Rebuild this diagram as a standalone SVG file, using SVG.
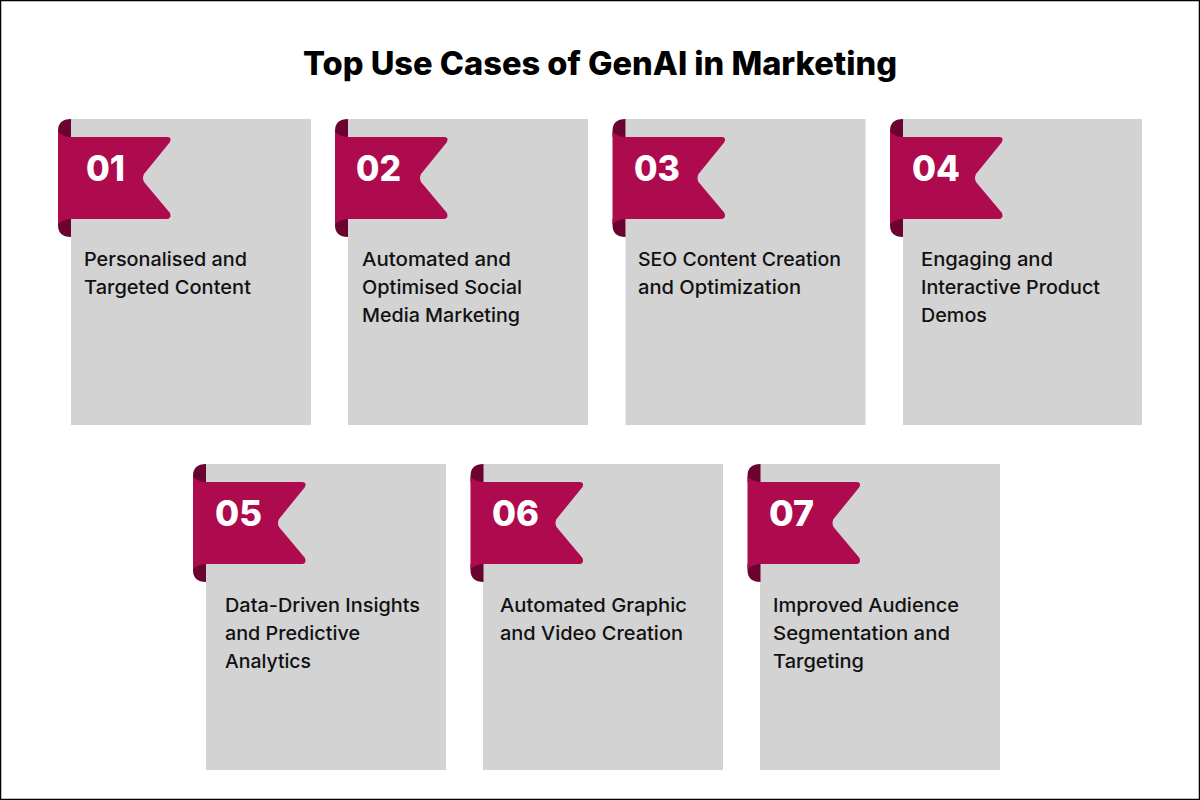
<svg xmlns="http://www.w3.org/2000/svg" width="1200" height="800" viewBox="0 0 1200 800">
<style>
.card{fill:#d3d3d3}
.ribbon{fill:#ae0a4e}
.fold{fill:#6b0330}
.num{font-family:Inter,"Liberation Sans",sans-serif;font-weight:800;font-size:35px;fill:#fff}
.label{font-family:Inter,"Liberation Sans",sans-serif;font-weight:500;font-size:19px;fill:#111}
.title{font-family:Inter,"Liberation Sans",sans-serif;font-weight:800;font-size:32px;fill:#000}
</style>
<defs>
<g id="tag">
<path class="fold" d="M0 137V131Q0 119 13 119V137ZM0 219H13V237Q0 237 0 225Z"/>
<path class="ribbon" d="M0 132Q6 137 13 137H109Q114 137 112 142L86 174Q84 178 86 182L112 213Q114 219 108 219H13Q6 219 0 224Z"/>
</g>
</defs>
<rect x="0.5" y="0.5" width="1199" height="799" fill="#fff" stroke="#000" stroke-width="1.5"/>
<text class="title" x="600" y="75" text-anchor="middle" textLength="594" lengthAdjust="spacingAndGlyphs">Top Use Cases of GenAI in Marketing</text>
<g id="node-01">
<rect class="card" x="71" y="119" width="240" height="306"/>
<use href="#tag" x="58"/>
<text class="num" x="86" y="181" textLength="39" lengthAdjust="spacingAndGlyphs">01</text>
<text class="label" x="84" y="266" textLength="163" lengthAdjust="spacingAndGlyphs">Personalised and</text>
<text class="label" x="84" y="294" textLength="167" lengthAdjust="spacingAndGlyphs">Targeted Content</text>
</g>
<g id="node-02">
<rect class="card" x="348" y="119" width="240" height="306"/>
<use href="#tag" x="335"/>
<text class="num" x="356" y="181" textLength="45" lengthAdjust="spacingAndGlyphs">02</text>
<text class="label" x="362" y="266" textLength="149" lengthAdjust="spacingAndGlyphs">Automated and</text>
<text class="label" x="362" y="294" textLength="160" lengthAdjust="spacingAndGlyphs">Optimised Social</text>
<text class="label" x="362" y="322" textLength="158" lengthAdjust="spacingAndGlyphs">Media Marketing</text>
</g>
<g id="node-03">
<rect class="card" x="625.500" y="119" width="240" height="306"/>
<use href="#tag" x="612.500"/>
<text class="num" x="634" y="181" textLength="46" lengthAdjust="spacingAndGlyphs">03</text>
<text class="label" x="638" y="266" textLength="203" lengthAdjust="spacingAndGlyphs">SEO Content Creation</text>
<text class="label" x="638" y="294" textLength="163" lengthAdjust="spacingAndGlyphs">and Optimization</text>
</g>
<g id="node-04">
<rect class="card" x="903" y="119" width="239" height="306"/>
<use href="#tag" x="890"/>
<text class="num" x="912" y="181" textLength="48" lengthAdjust="spacingAndGlyphs">04</text>
<text class="label" x="921" y="266" textLength="132" lengthAdjust="spacingAndGlyphs">Engaging and</text>
<text class="label" x="921" y="294" textLength="179" lengthAdjust="spacingAndGlyphs">Interactive Product</text>
<text class="label" x="921" y="322" textLength="66" lengthAdjust="spacingAndGlyphs">Demos</text>
</g>
<g id="node-05">
<rect class="card" x="206" y="464" width="240" height="306"/>
<use href="#tag" x="193" y="345"/>
<text class="num" x="215" y="526" textLength="47" lengthAdjust="spacingAndGlyphs">05</text>
<text class="label" x="225" y="612" textLength="195" lengthAdjust="spacingAndGlyphs">Data-Driven Insights</text>
<text class="label" x="225" y="640" textLength="135" lengthAdjust="spacingAndGlyphs">and Predictive</text>
<text class="label" x="225" y="668" textLength="86" lengthAdjust="spacingAndGlyphs">Analytics</text>
</g>
<g id="node-06">
<rect class="card" x="483" y="464" width="240" height="306"/>
<use href="#tag" x="470.500" y="345"/>
<text class="num" x="492" y="526" textLength="47" lengthAdjust="spacingAndGlyphs">06</text>
<text class="label" x="500" y="612" textLength="187" lengthAdjust="spacingAndGlyphs">Automated Graphic</text>
<text class="label" x="500" y="640" textLength="183" lengthAdjust="spacingAndGlyphs">and Video Creation</text>
</g>
<g id="node-07">
<rect class="card" x="760" y="464" width="240" height="306"/>
<use href="#tag" x="747.500" y="345"/>
<text class="num" x="769" y="526" textLength="45" lengthAdjust="spacingAndGlyphs">07</text>
<text class="label" x="773" y="612" textLength="186" lengthAdjust="spacingAndGlyphs">Improved Audience</text>
<text class="label" x="773" y="640" textLength="177" lengthAdjust="spacingAndGlyphs">Segmentation and</text>
<text class="label" x="773" y="668" textLength="91" lengthAdjust="spacingAndGlyphs">Targeting</text>
</g>
</svg>
